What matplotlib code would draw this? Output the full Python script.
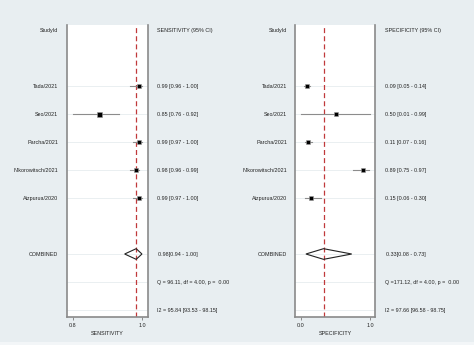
import matplotlib
matplotlib.use("Agg")
import matplotlib.pyplot as plt
from matplotlib.patches import Polygon, Rectangle
from matplotlib.transforms import blended_transform_factory

plt.rcParams['font.family'] = ['Liberation Sans', 'DejaVu Sans']

# Study data
studies = ["Tada/2021", "Seo/2021", "Parcha/2021", "Nikorowitsch/2021", "Aizpurua/2020"]

sens = [0.99, 0.85, 0.99, 0.98, 0.99]
sens_lo = [0.96, 0.76, 0.97, 0.96, 0.97]
sens_hi = [1.00, 0.92, 1.00, 0.99, 1.00]
sens_comb = [0.98, 0.94, 1.00]          # estimate, lower, upper
sens_q = "Q = 96.11, df = 4.00, p =  0.00"
sens_i2 = "I2 = 95.84 [93.53 - 98.15]"

spec = [0.09, 0.50, 0.11, 0.89, 0.15]
spec_lo = [0.05, 0.01, 0.07, 0.75, 0.06]
spec_hi = [0.14, 0.99, 0.16, 0.97, 0.30]
spec_comb = [0.33, 0.08, 0.73]
spec_q = "Q =171.12, df = 4.00, p =  0.00"
spec_i2 = "I2 = 97.66 [96.58 - 98.75]"

W, H = 474, 345
fig = plt.figure(figsize=(W / 100, H / 100), dpi=100)
fig.patch.set_facecolor("#e8eef1")
fig.add_artist(Rectangle((0, 0), 1, 3 / H, transform=fig.transFigure,
                         facecolor="#f3f6f8", edgecolor="none"))

FS = 3.9
TXT = "#222222"
GRID = "#e6ecef"
AXC = "#8a8a8a"

study_rows = [2, 3, 4, 5, 6]
comb_row, q_row, i2_row = 8, 9, 10


def panel(x0, x1, xlim, ticks, ticklabels, xlabel, name_x, val_x, header,
          est, lo, hi, comb, qtext, i2text, square_sizes):
    ax = fig.add_axes([x0 / W, (H - 317) / H, (x1 - x0) / W, (317 - 25) / H])
    ax.set_facecolor("white")
    ax.set_xlim(*xlim)
    ax.set_ylim(10.25, -0.18)
    for s in ("top",):
        ax.spines[s].set_visible(False)
    for s in ("left", "right", "bottom"):
        ax.spines[s].set_color(AXC)
        ax.spines[s].set_linewidth(1.2)
    ax.set_yticks([])
    ax.set_xticks(ticks)
    ax.set_xticklabels(ticklabels, fontsize=FS, color=TXT)
    ax.tick_params(axis="x", length=2.5, width=0.7, color=AXC, pad=1.5)
    ax.set_xlabel(xlabel, fontsize=FS, color=TXT, labelpad=2.5)

    for r in study_rows + [comb_row, q_row, i2_row]:
        ax.axhline(r, color=GRID, lw=0.6, zorder=0)

    ax.axvline(comb[0], color="#c0393b", lw=0.9, ls=(0, (4, 2.5)), zorder=1)

    for r, e, l, h, ms in zip(study_rows, est, lo, hi, square_sizes):
        ax.plot([l, h], [r, r], color="#8c8c8c", lw=0.8, zorder=2)
        ax.plot([e], [r], marker="s", ms=ms, color="black",
                mec="#9a9a9a", mew=0.4, zorder=3)

    c, cl, ch = comb
    dh = 0.19
    ax.add_patch(Polygon([(cl, comb_row), (c, comb_row - dh), (ch, comb_row),
                          (c, comb_row + dh)], closed=True, facecolor="none",
                         edgecolor="#222222", lw=0.8, zorder=3))

    tr = blended_transform_factory(fig.transFigure, ax.transData)
    ax.text(name_x / W, 0, "StudyId", transform=tr, ha="right", va="center",
            fontsize=FS, color=TXT)
    ax.text(val_x / W, 0, header, transform=tr, ha="left", va="center",
            fontsize=FS, color=TXT)
    for r, nm, e, l, h in zip(study_rows, studies, est, lo, hi):
        ax.text(name_x / W, r, nm, transform=tr, ha="right", va="center",
                fontsize=FS, color=TXT)
        ax.text(val_x / W, r, f"{e:.2f} [{l:.2f} - {h:.2f}]", transform=tr,
                ha="left", va="center", fontsize=FS, color=TXT)
    ax.text(name_x / W, comb_row, "COMBINED", transform=tr, ha="right",
            va="center", fontsize=FS, color=TXT)
    ax.text((val_x + 1) / W, comb_row, f"{c:.2f}[{cl:.2f} - {ch:.2f}]",
            transform=tr, ha="left", va="center", fontsize=FS, color=TXT)
    ax.text(val_x / W, q_row, qtext, transform=tr, ha="left", va="center",
            fontsize=FS, color=TXT)
    ax.text(val_x / W, i2_row, i2text, transform=tr, ha="left", va="center",
            fontsize=FS, color=TXT)
    return ax


panel(67, 148, (0.740, 1.021), [0.76, 1.00], ["0.8", "1.0"], "SENSITIVITY",
      58, 157, "SENSITIVITY (95% CI)", sens, sens_lo, sens_hi, sens_comb,
      sens_q, sens_i2, [3.2, 3.6, 3.2, 3.2, 3.2])

panel(295.3, 375.3, (-0.071, 1.065), [0.01, 0.99], ["0.0", "1.0"],
      "SPECIFICITY", 287, 385, "SPECIFICITY (95% CI)", spec, spec_lo, spec_hi,
      spec_comb, spec_q, spec_i2, [3.2, 3.4, 3.2, 3.2, 3.2])

fig.savefig("out.png", dpi=100, facecolor=fig.get_facecolor())
